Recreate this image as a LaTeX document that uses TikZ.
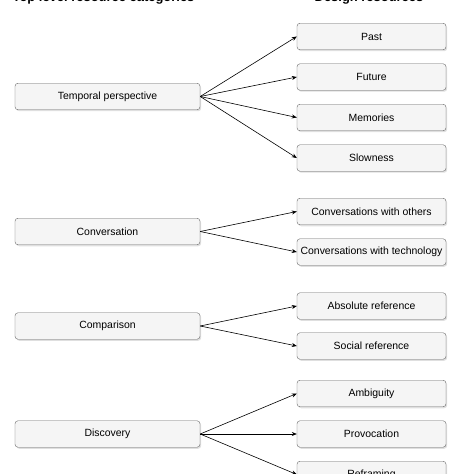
\documentclass[tikz,border=0pt]{standalone}
\usepackage{fontspec}
\setmainfont{Liberation Sans}
\usetikzlibrary{arrows.meta,positioning,shadows}
\definecolor{rgray}{HTML}{F5F5F5}
\definecolor{rline}{HTML}{666666}
\begin{document}
\begin{tikzpicture}[x=1bp,y=-1bp, every node/.style={font=\fontsize{10.5}{12}\selectfont,align=center}, cat/.style={draw=rline,fill=rgray,rounded corners=3bp,minimum width=185bp,minimum height=26.5bp,inner sep=1pt,drop shadow={shadow xshift=1.2bp,shadow yshift=-1.5bp,opacity=0.25}}, res/.style={cat,minimum width=149bp}, head/.style={font=\fontsize{13}{15}\selectfont\bfseries,anchor=base}, arr/.style={-{Stealth[length=5bp,width=4bp]},black,line width=0.6bp}]
\useasboundingbox (0,0) rectangle (474,474);
\node[head] (hcat) at (103.5,1.8) {Top level resource categories};
\node[head] (hres) at (369,1.8) {Design resources};
% categories
\node[cat] (temp) at (107.5,96.5) {Temporal perspective};
\node[cat] (conv) at (107.5,231.5) {Conversation};
\node[cat] (comp) at (107.5,326) {Comparison};
\node[cat] (disc) at (107.5,434) {Discovery};
% resources
\node[res] (past) at (371.5,36.5) {Past};
\node[res] (fut) at (371.5,77) {Future};
\node[res] (mem) at (371.5,117.5) {Memories};
\node[res] (slow) at (371.5,158) {Slowness};
\node[res] (cothers) at (371.5,211.5) {Conversations with others};
\node[res] (ctech) at (371.5,252) {Conversations with technology};
\node[res] (absref) at (371.5,306) {Absolute reference};
\node[res] (socref) at (371.5,346) {Social reference};
\node[res] (amb) at (371.5,393.5) {Ambiguity};
\node[res] (prov) at (371.5,434) {Provocation};
\node[res] (refr) at (371.5,474.5) {Reframing};
\draw[arr] (temp.east)--(past.west); \draw[arr] (temp.east)--(fut.west); \draw[arr] (temp.east)--(mem.west); \draw[arr] (temp.east)--(slow.west);
\draw[arr] (conv.east)--(cothers.west); \draw[arr] (conv.east)--(ctech.west);
\draw[arr] (comp.east)--(absref.west); \draw[arr] (comp.east)--(socref.west);
\draw[arr] (disc.east)--(amb.west); \draw[arr] (disc.east)--(prov.west); \draw[arr] (disc.east)--(refr.west);
\end{tikzpicture}
\end{document}
